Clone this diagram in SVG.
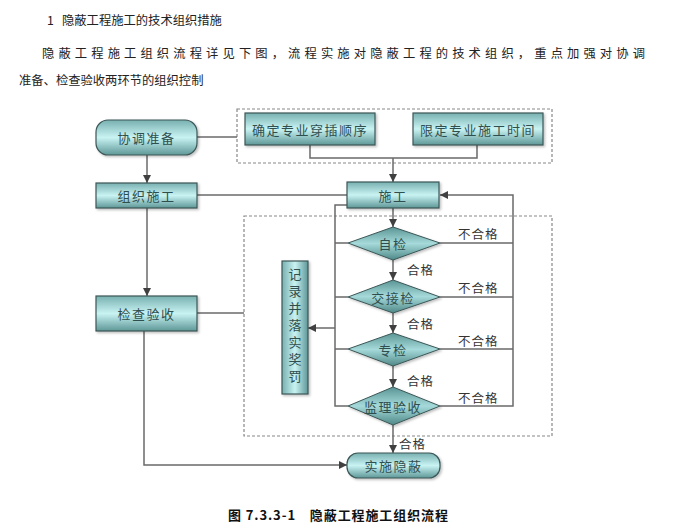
<svg xmlns="http://www.w3.org/2000/svg" width="678" height="528" viewBox="0 0 678 528">
<defs>
<linearGradient id="gv" x1="0" y1="0" x2="0" y2="1">
<stop offset="0" stop-color="#78b0b0"/>
<stop offset="0.5" stop-color="#c9f3f3"/>
<stop offset="1" stop-color="#5e9797"/>
</linearGradient>
<linearGradient id="gh" x1="0" y1="0" x2="1" y2="0">
<stop offset="0" stop-color="#78b0b0"/>
<stop offset="0.5" stop-color="#c9f3f3"/>
<stop offset="1" stop-color="#5e9797"/>
</linearGradient>
<linearGradient id="gd" x1="0" y1="0" x2="0" y2="1">
<stop offset="0" stop-color="#5a9494"/>
<stop offset="0.5" stop-color="#a6dada"/>
<stop offset="1" stop-color="#4f8888"/>
</linearGradient>
<marker id="ar" viewBox="0 0 10 10" refX="10" refY="5" markerWidth="8" markerHeight="8" markerUnits="userSpaceOnUse" orient="auto">
<path d="M0,0 L10,5 L0,10 z" fill="#404040"/>
</marker>
<filter id="sh" x="-10%" y="-10%" width="130%" height="140%">
<feDropShadow dx="1.5" dy="1.5" stdDeviation="1" flood-color="#000" flood-opacity="0.25"/>
</filter>
</defs>
<style>
.t{font-family:"Noto Sans CJK SC","Liberation Serif",serif;fill:#222;}
.p{font-size:12.3px;}
.n{font-family:"Noto Sans CJK SC",sans-serif;font-size:13px;fill:#2f4f4f;text-anchor:middle;dominant-baseline:central;letter-spacing:1.5px;}
.l{font-family:"Noto Sans CJK SC",sans-serif;font-size:12.5px;fill:#333;dominant-baseline:central;letter-spacing:1px;}
.box{fill:url(#gv);stroke:#3c5656;stroke-width:1.2;filter:url(#sh);}
.dia{fill:url(#gd);stroke:#3c5656;stroke-width:1;filter:url(#sh);}
.dash{fill:none;stroke:#888;stroke-width:1.2;stroke-dasharray:3,2;}
.c{fill:none;stroke:#6a6a6a;stroke-width:1.5;}
.a{marker-end:url(#ar);}
</style>
<rect width="678" height="528" fill="#ffffff"/>
<text class="t p" x="47" y="25">1</text>
<text class="t p" x="62" y="25">隐蔽工程施工的技术组织措施</text>
<text class="t p" x="42" y="58" textLength="603" lengthAdjust="spacing">隐蔽工程施工组织流程详见下图，流程实施对隐蔽工程的技术组织，重点加强对协调</text>
<text class="t p" x="19" y="85">准备、检查验收两环节的组织控制</text>

<rect class="dash" x="237" y="109" width="315" height="54"/>
<rect class="dash" x="244" y="216" width="308" height="220"/>

<g id="connectors">
<path class="c" d="M197,137 H237"/>
<path class="c a" d="M147,155 V183"/>
<path class="c" d="M197,195 H347"/>
<path class="c a" d="M147,208 V296"/>
<path class="c" d="M197,313 H244"/>
<path class="c a" d="M144,331 V465 H347"/>
<path class="c" d="M310,145 V158 H477 V145"/>
<path class="c a" d="M393,158 V182"/>
<path class="c a" d="M393,208 V227"/>
<path class="c a" d="M393,260 V280"/>
<path class="c a" d="M393,313 V333"/>
<path class="c a" d="M393,366 V387"/>
<path class="c a" d="M393,425 V453"/>
<path class="c" d="M440,243 H513 M440,297 H513 M440,349 H513"/>
<path class="c a" d="M440,406 H513 V195 H440"/>
<path class="c" d="M348,243 H335 M348,297 H335 M348,349 H335"/>
<path class="c" d="M348,406 H335 V205 H347"/>
<path class="c a" d="M335,328 H308"/>
</g>

<g id="xietiao"><rect class="box" x="96" y="120" width="101" height="35" rx="12"/><text class="n" x="146.5" y="137.5">协调准备</text></g>
<g id="queding"><rect class="box" x="245" y="113" width="130" height="32"/><text class="n" x="310" y="129">确定专业穿插顺序</text></g>
<g id="xianding"><rect class="box" x="413" y="113" width="130" height="32"/><text class="n" x="478" y="129">限定专业施工时间</text></g>
<g id="zuzhi"><rect class="box" x="96" y="183" width="101" height="25"/><text class="n" x="146.5" y="195.5">组织施工</text></g>
<g id="shigong"><rect class="box" x="347" y="182" width="92" height="26"/><text class="n" x="393" y="195">施工</text></g>
<g id="jiancha"><rect class="box" x="96" y="296" width="101" height="35"/><text class="n" x="146.5" y="313.5">检查验收</text></g>
<g id="jilu"><rect x="282" y="261" width="26" height="133" fill="url(#gh)" stroke="#3c5656" stroke-width="1.2" filter="url(#sh)"/>
<text x="295" y="268" style="writing-mode:vertical-rl;text-orientation:upright;font-family:'Noto Sans CJK SC',sans-serif;font-size:13px;letter-spacing:4px;fill:#2f4f4f">记录并落实奖罚</text>
</g>
<g id="zijian"><polygon class="dia" points="348,243 393,227 440,243 393,260"/><text class="n" x="393" y="243.5">自检</text></g>
<g id="jiaojie"><polygon class="dia" points="348,297 393,280 440,297 393,313"/><text class="n" x="393" y="297">交接检</text></g>
<g id="zhuanjian"><polygon class="dia" points="348,349 393,333 440,349 393,366"/><text class="n" x="393" y="349.5">专检</text></g>
<g id="jianli"><polygon class="dia" points="348,406 393,387 440,406 393,425"/><text class="n" x="393" y="406">监理验收</text></g>
<g id="shishi"><rect class="box" x="347" y="453" width="93" height="25" rx="11"/><text class="n" x="393.5" y="465.5">实施隐蔽</text></g>

<text class="l" x="458" y="233">不合格</text>
<text class="l" x="458" y="287">不合格</text>
<text class="l" x="458" y="340">不合格</text>
<text class="l" x="458" y="397">不合格</text>
<text class="l" x="407" y="269">合格</text>
<text class="l" x="407" y="323">合格</text>
<text class="l" x="407" y="380">合格</text>
<text class="l" x="399" y="443">合格</text>

<text x="228" y="520" textLength="220" lengthAdjust="spacing" font-family="'Noto Sans CJK SC',sans-serif" font-size="13" font-weight="bold" fill="#111">图 7.3.3-1　隐蔽工程施工组织流程</text>
</svg>
